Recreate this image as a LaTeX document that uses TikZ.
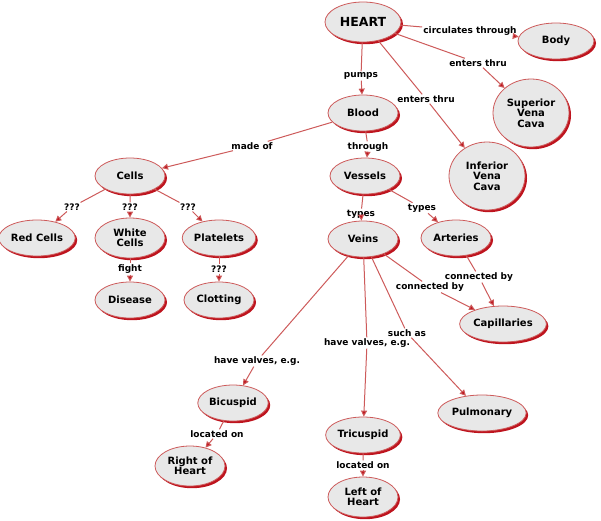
\documentclass[tikz,border=0pt]{standalone}
\usepackage{fontspec}
\setmainfont{DejaVu Sans}
\usetikzlibrary{shapes.geometric}
\usetikzlibrary{arrows.meta}
\usetikzlibrary{shadows}
\definecolor{ered}{RGB}{190,20,30}
\definecolor{lred}{RGB}{205,90,90}
\definecolor{egray}{RGB}{232,232,232}
\tikzset{
    concept/.style = {ellipse,draw=lred,fill=egray,line width=0.8pt,
        minimum width=70pt,minimum height=36pt,inner sep=1pt,align=center,
        font=\fontsize{10}{10.5}\selectfont\bfseries,
        drop shadow={fill=ered,opacity=1,shadow xshift=2pt,shadow yshift=-2.2pt}},
    tall/.style = {minimum height=68pt,minimum width=76pt},
    link/.style = {fill=white,inner sep=1pt,font=\fontsize{9}{10}\selectfont\bfseries},
    conn/.style = {draw=lred,line width=1pt},
    arr/.style = {conn,-{Triangle[length=6pt,width=6pt,fill=ered]}}}
\begin{document}
\begin{tikzpicture}[x=1pt,y=-1pt]
    \useasboundingbox (0,0) rectangle (601,520);
    % concepts
    \node[concept,minimum width=76pt,minimum height=40pt,font=\fontsize{12.5}{13}\selectfont\bfseries] (heart) at (363,22) {HEART};
    \node[concept,minimum width=76pt] (body) at (556,41) {Body};
    \node[concept,tall] (svc) at (531,113) {Superior\\Vena\\Cava};
    \node[concept] (blood) at (363,113) {Blood};
    \node[concept,tall] (ivc) at (487,176) {Inferior\\Vena\\Cava};
    \node[concept] (cells) at (130,176) {Cells};
    \node[concept] (vessels) at (365,176) {Vessels};
    \node[concept,minimum width=72pt] (red) at (37,238) {Red Cells};
    \node[concept,minimum height=40pt] (white) at (130,238) {White\\Cells};
    \node[concept] (platelets) at (219,238) {Platelets};
    \node[concept] (veins) at (363,239) {Veins};
    \node[concept] (arteries) at (456,238) {Arteries};
    \node[concept] (disease) at (130,300) {Disease};
    \node[concept] (clotting) at (219,300) {Clotting};
    \node[concept,minimum width=80pt] (capillaries) at (503,324) {Capillaries};
    \node[concept] (bicuspid) at (233,403) {Bicuspid};
    \node[concept,minimum width=78pt] (pulmonary) at (482,413) {Pulmonary};
    \node[concept] (tricuspid) at (363,435) {Tricuspid};
    \node[concept,minimum height=40pt] (rightheart) at (190,466) {Right of\\Heart};
    \node[concept,minimum height=40pt] (leftheart) at (363,497) {Left of\\Heart};
    % link labels
    \node[link] (l1) at (470,31) {circulates through};
    \node[link] (l2) at (478,63) {enters thru};
    \node[link] (l3) at (426,99) {enters thru};
    \node[link] (l4) at (361,76) {pumps};
    \node[link] (l5) at (252,146) {made of};
    \node[link] (l6) at (368,147) {through};
    \node[link] (l7) at (72,207) {???};
    \node[link] (l8) at (130,207) {???};
    \node[link] (l9) at (188,207) {???};
    \node[link] (l10) at (361,214) {types};
    \node[link] (l11) at (422,208) {types};
    \node[link] (l12) at (130,269) {fight};
    \node[link] (l13) at (219,269) {???};
    \node[link] (l14) at (479,277) {connected by};
    \node[link] (l15) at (430,287) {connected by};
    \node[link] (l16) at (257,361) {have valves, e.g.};
    \node[link] (l17) at (367,343) {have valves, e.g.};
    \node[link] (l18) at (407,333) {such as};
    \node[link] (l19) at (217,434) {located on};
    \node[link] (l20) at (363,465) {located on};
    % connectors
    \draw[conn] (heart) -- (l1) (heart) -- (l2) (heart) -- (l3) (heart) -- (l4);
    \draw[arr] (l1) -- (body);
    \draw[arr] (l2) -- (svc);
    \draw[arr] (l3) -- (ivc);
    \draw[arr] (l4) -- (blood);
    \draw[conn] (blood) -- (l5) (blood) -- (l6);
    \draw[arr] (l5) -- (cells);
    \draw[arr] (l6) -- (vessels);
    \draw[conn] (cells) -- (l7) (cells) -- (l8) (cells) -- (l9);
    \draw[arr] (l7) -- (red);
    \draw[arr] (l8) -- (white);
    \draw[arr] (l9) -- (platelets);
    \draw[conn] (vessels) -- (l10) (vessels) -- (l11);
    \draw[arr] (l10) -- (veins);
    \draw[arr] (l11) -- (arteries);
    \draw[conn] (white) -- (l12) (platelets) -- (l13);
    \draw[arr] (l12) -- (disease);
    \draw[arr] (l13) -- (clotting);
    \draw[conn] (arteries) -- (l14) (veins) -- (l15);
    \draw[arr] (l14) -- (capillaries);
    \draw[arr] (l15) -- (capillaries);
    \draw[conn] (veins) -- (l16) (veins) -- (l17) (veins) -- (l18);
    \draw[arr] (l16) -- (bicuspid);
    \draw[arr] (l17) -- (tricuspid);
    \draw[arr] (l18) -- (pulmonary);
    \draw[conn] (bicuspid) -- (l19) (tricuspid) -- (l20);
    \draw[arr] (l19) -- (rightheart);
    \draw[arr] (l20) -- (leftheart);
\end{tikzpicture}
\end{document}
